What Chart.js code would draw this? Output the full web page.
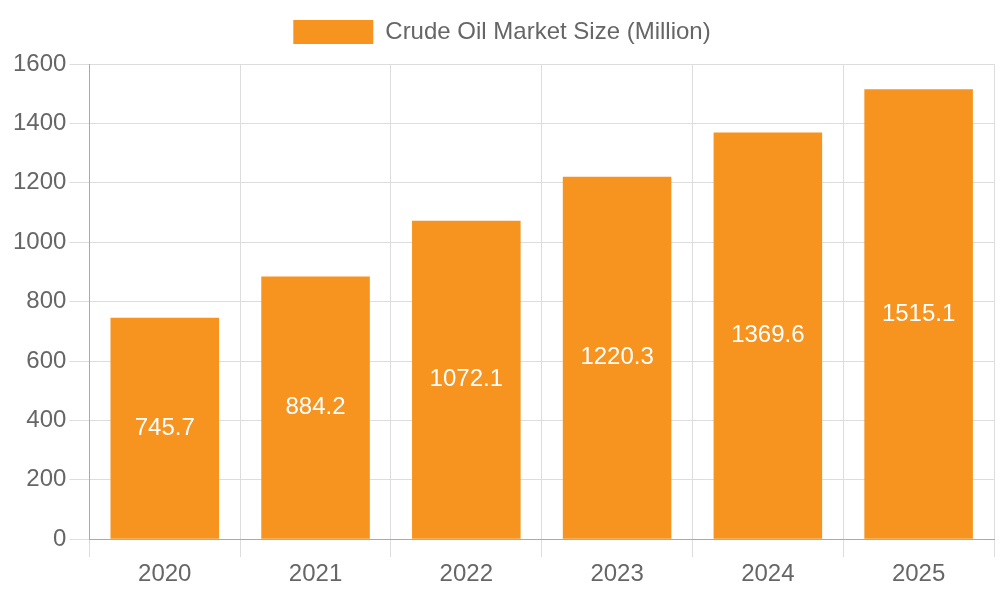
<!DOCTYPE html>
<html>
<head>
<meta charset="utf-8">
<script src="https://cdn.jsdelivr.net/npm/chart.js@4/dist/chart.umd.min.js"></script>
<style>
    html, body { margin: 0; padding: 0; background: #fff; }
    #wrap { width: 1000px; height: 600px; }
</style>
</head>
<body>
<div id="wrap"><canvas id="chart0"></canvas></div>
<script>
let years = ['2020', '2021', '2022', '2023', '2024', '2025'];
let marketSize = [745.7, 884.2, 1072.1, 1220.3, 1369.6, 1515.1];
let seriesName = 'Crude Oil Market Size (Million)';

Chart.defaults.font.family = '"Liberation Sans", Arial, sans-serif';
Chart.defaults.color = '#666';

// draw the value in the middle of each bar
let barLabels = {
    id: 'barLabels',
    afterDatasetsDraw(chart) {
        let ctx = chart.ctx;
        ctx.save();
        ctx.fillStyle = '#fff';
        ctx.font = '24px "Liberation Sans", Arial, sans-serif';
        ctx.textAlign = 'center';
        ctx.textBaseline = 'middle';
        chart.getDatasetMeta(0).data.forEach((bar, i) => {
            let mid = (bar.y + bar.base) / 2;
            ctx.fillText(marketSize[i].toFixed(1), bar.x, mid);
        });
        ctx.restore();
    }
};

// a bit more room under the legend
let legendGap = {
    id: 'legendGap',
    beforeInit(chart) {
        let origFit = chart.legend.fit;
        chart.legend.fit = function () {
            origFit.bind(chart.legend)();
            this.height += 10;
        };
    }
};

let chart0 = document.getElementById('chart0');
let currentChart = new Chart(chart0, {
    type: 'bar',
    data: {
        labels: years,
        datasets: [{
            label: seriesName,
            data: marketSize,
            backgroundColor: '#F7941F',
        }]
    },
    options: {
        responsive: true,
        maintainAspectRatio: false,
        animation: false,
        layout: {
            padding: { left: 10, right: 6, top: 10, bottom: 8 }
        },
        plugins: {
            legend: {
                display: true,
                labels: {
                    boxWidth: 80,
                    boxHeight: 24,
                    font: { size: 24 },
                    padding: 10
                }
            },
            tooltip: { enabled: false }
        },
        scales: {
            x: {
                grid: {
                    display: true,
                    color: '#ddd',
                    tickLength: 18
                },
                border: { color: '#aaa' },
                ticks: { font: { size: 24 } }
            },
            y: {
                min: 0,
                max: 1600,
                grid: {
                    display: true,
                    color: '#ddd',
                    tickLength: 20
                },
                border: { color: '#aaa' },
                ticks: {
                    stepSize: 200,
                    font: { size: 24 },
                    callback: value => String(value)
                }
            }
        }
    },
    plugins: [barLabels, legendGap]
});
</script>
</body>
</html>
